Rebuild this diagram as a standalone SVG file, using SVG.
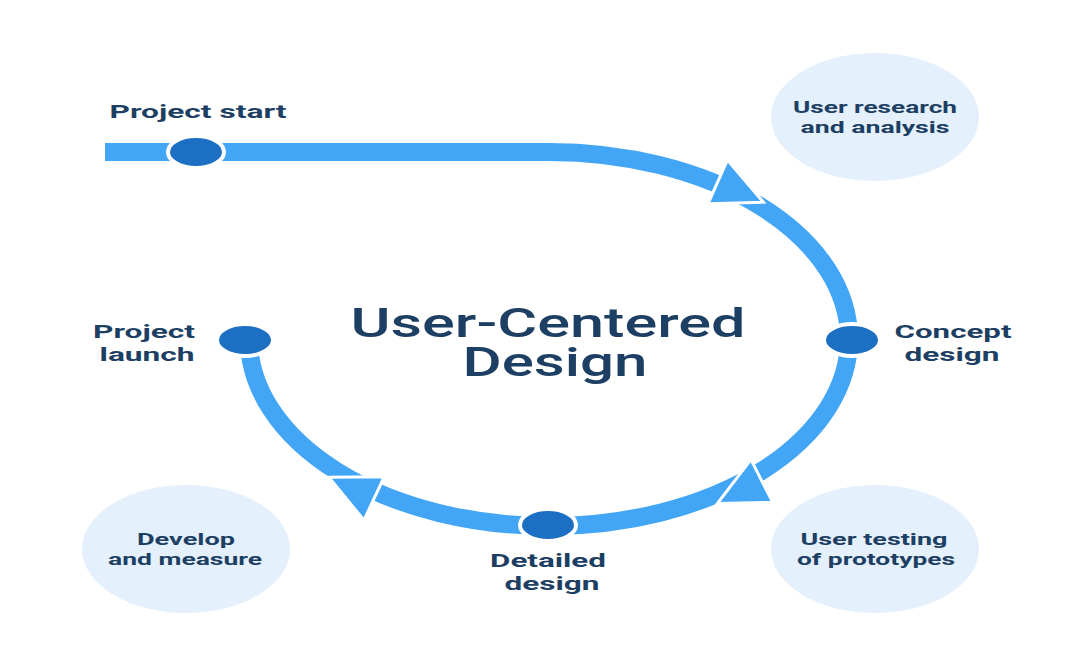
<svg xmlns="http://www.w3.org/2000/svg" width="1072" height="655" viewBox="0 0 1072 655">
<style>
.t{font-family:"Roboto","Liberation Sans",sans-serif;font-weight:bold;fill:#1d3f63;font-size:19px;text-anchor:middle}
.s{font-size:17px}
.h{font-size:41px;font-weight:500}
.bub{fill:#e4f0fb}
.dot{fill:#1c6fc2;stroke:#fff;stroke-width:4}
.ah{fill:#42a5f5;stroke:#fff;stroke-width:3;stroke-linejoin:miter}
</style>
<rect width="1072" height="655" fill="#fff"/>
<g id="bubbles">
<g id="n-research"><ellipse class="bub" cx="875" cy="117" rx="104" ry="64"/><text class="t s" x="875" y="113" textLength="164" lengthAdjust="spacingAndGlyphs">User research</text><text class="t s" x="875" y="133" textLength="149" lengthAdjust="spacingAndGlyphs">and analysis</text></g>
<g id="n-testing"><ellipse class="bub" cx="875" cy="549" rx="104" ry="64"/><text class="t s" x="874" y="545" textLength="147" lengthAdjust="spacingAndGlyphs">User testing</text><text class="t s" x="876" y="565" textLength="158" lengthAdjust="spacingAndGlyphs">of prototypes</text></g>
<g id="n-develop"><ellipse class="bub" cx="186" cy="549" rx="104" ry="64"/><text class="t s" x="186" y="545" textLength="98" lengthAdjust="spacingAndGlyphs">Develop</text><text class="t s" x="185" y="565" textLength="154" lengthAdjust="spacingAndGlyphs">and measure</text></g>
</g>
<g id="connectors">
<path d="M105,152 H549 A300,187 0 1,1 249,340" fill="none" stroke="#42a5f5" stroke-width="18"/>
<polygon class="ah" points="30,0 -20,-24 -20,24" transform="translate(736,190) rotate(24)"/>
<polygon class="ah" points="30,0 -20,-24 -20,24" transform="translate(744,490) rotate(153)"/>
<polygon class="ah" points="30,0 -20,-24 -20,24" transform="translate(356,490) rotate(205)"/>
</g>
<g id="n-start"><ellipse class="dot" cx="196" cy="152" rx="28" ry="16"/><text class="t" x="198" y="118" textLength="177" lengthAdjust="spacingAndGlyphs">Project start</text></g>
<g id="n-concept"><ellipse class="dot" cx="852" cy="340" rx="28" ry="16"/><text class="t" x="953" y="338" textLength="117" lengthAdjust="spacingAndGlyphs">Concept</text><text class="t" x="952" y="361" textLength="95" lengthAdjust="spacingAndGlyphs">design</text></g>
<g id="n-detailed"><ellipse class="dot" cx="548" cy="525" rx="28" ry="16"/><text class="t" x="548" y="567" textLength="116" lengthAdjust="spacingAndGlyphs">Detailed</text><text class="t" x="552" y="590" textLength="95" lengthAdjust="spacingAndGlyphs">design</text></g>
<g id="n-launch"><ellipse class="dot" cx="245" cy="340" rx="28" ry="16"/><text class="t" x="144" y="338" textLength="102" lengthAdjust="spacingAndGlyphs">Project</text><text class="t" x="147" y="361" textLength="95" lengthAdjust="spacingAndGlyphs">launch</text></g>
<g id="title"><text class="t h" x="548" y="337" textLength="395" lengthAdjust="spacingAndGlyphs">User-Centered</text><text class="t h" x="555" y="376" textLength="185" lengthAdjust="spacingAndGlyphs">Design</text></g>
</svg>
